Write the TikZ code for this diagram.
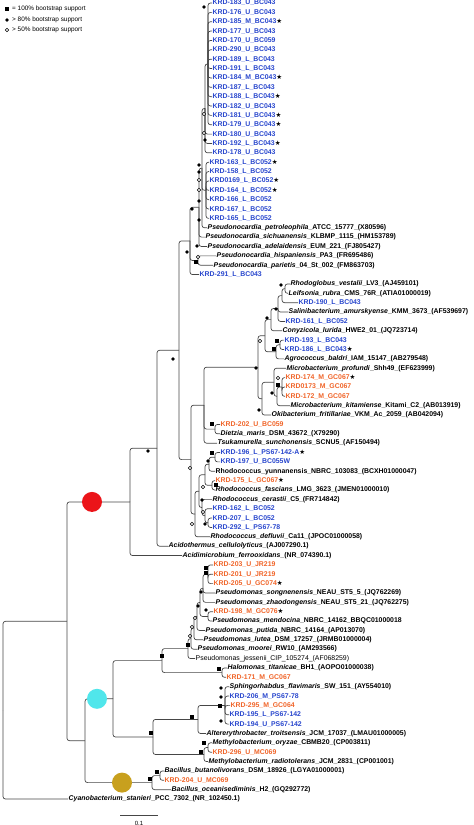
\documentclass[tikz,border=0pt]{standalone}
\usepackage{fontspec}
\setmainfont{Liberation Sans}
\newfontfamily\symf{DejaVu Sans}
\definecolor{kb}{RGB}{40,70,205}
\definecolor{ko}{RGB}{240,100,40}
\definecolor{lc}{RGB}{70,70,70}
\definecolor{cred}{RGB}{235,20,25}
\definecolor{ccyan}{RGB}{80,230,235}
\definecolor{cgold}{RGB}{200,160,30}
\newcommand\lab{\fontsize{6.9}{8}\selectfont\bfseries}
\newcommand\st{{\symf\fontsize{6.5}{6}\selectfont ★}}
\newcommand\leaf[4]{\node[lf] (#1) at (#2,{3+(#3-1)*9.365}) {#4};}
\newcommand\tl[2]{\draw[br] (#1) |- (#2.west);}
\newcommand\ti[2]{\draw[br] (#1) |- (#2);}
\newcommand\msq[2]{\fill[black] (#1,#2) ++(-1.9pt,-1.9pt) rectangle ++(3.8pt,3.8pt);}
\newcommand\mdot[2]{\fill[black] (#1,#2) circle (1.8pt);}
\newcommand\mop[2]{\draw[black,fill=white,line width=0.5pt] (#1,#2) circle (1.8pt);}
\newcommand\kb[1]{\textcolor{kb}{#1}}
\newcommand\ko[1]{\textcolor{ko}{#1}}
\begin{document}
\begin{tikzpicture}[x=1pt,y=-1pt,
  br/.style={draw=lc,line width=0.7pt,rounded corners=2.5pt},
  lf/.style={anchor=west,inner sep=0.5pt,font=\lab}]
\useasboundingbox (0,0) rectangle (474,825);
% legend
\msq{7}{9}
\node[anchor=west,inner sep=0pt,font=\fontsize{6.4}{7}\selectfont] (lg1) at (12,9) {= 100\% bootstrap support};
\mdot{7}{20}
\node[anchor=west,inner sep=0pt,font=\fontsize{6.4}{7}\selectfont] (lg2) at (12,20) {> 80\% bootstrap support};
\mop{7}{30}
\node[anchor=west,inner sep=0pt,font=\fontsize{6.4}{7}\selectfont] (lg3) at (12,30) {> 50\% bootstrap support};
% leaves
\leaf{L1}{212}{1}{\kb{KRD-183\_U\_BC043}}
\leaf{L2}{212}{2}{\kb{KRD-176\_U\_BC043}}
\leaf{L3}{212}{3}{\kb{KRD-185\_M\_BC043}\st}
\leaf{L4}{212}{4}{\kb{KRD-177\_U\_BC043}}
\leaf{L5}{212}{5}{\kb{KRD-170\_U\_BC059}}
\leaf{L6}{212}{6}{\kb{KRD-290\_U\_BC043}}
\leaf{L7}{212}{7}{\kb{KRD-189\_L\_BC043}}
\leaf{L8}{212}{8}{\kb{KRD-191\_L\_BC043}}
\leaf{L9}{212}{9}{\kb{KRD-184\_M\_BC043}\st}
\leaf{L10}{212}{10}{\kb{KRD-187\_L\_BC043}}
\leaf{L11}{212}{11}{\kb{KRD-188\_L\_BC043}\st}
\leaf{L12}{212}{12}{\kb{KRD-182\_U\_BC043}}
\leaf{L13}{212}{13}{\kb{KRD-181\_U\_BC043}\st}
\leaf{L14}{212}{14}{\kb{KRD-179\_U\_BC043}\st}
\leaf{L15}{212}{15}{\kb{KRD-180\_U\_BC043}}
\leaf{L16}{212}{16}{\kb{KRD-192\_L\_BC043}\st}
\leaf{L17}{212}{17}{\kb{KRD-178\_U\_BC043}}
\leaf{L18}{209}{18}{\kb{KRD-163\_L\_BC052}\st}
\leaf{L19}{209}{19}{\kb{KRD-158\_L\_BC052}}
\leaf{L20}{209}{20}{\kb{KRD0169\_L\_BC052}\st}
\leaf{L21}{209}{21}{\kb{KRD-164\_L\_BC052}\st}
\leaf{L22}{209}{22}{\kb{KRD-166\_L\_BC052}}
\leaf{L23}{209}{23}{\kb{KRD-167\_L\_BC052}}
\leaf{L24}{209}{24}{\kb{KRD-165\_L\_BC052}}
\leaf{L25}{207}{25}{\textit{Pseudonocardia\_petroleophila}\_ATCC\_15777\_(X80596)}
\leaf{L26}{205}{26}{\textit{Pseudonocardia\_sichuanensis}\_KLBMP\_1115\_(HM153789)}
\leaf{L27}{207}{27}{\textit{Pseudonocardia\_adelaidensis}\_EUM\_221\_(FJ805427)}
\leaf{L28}{216}{28}{\textit{Pseudonocardia\_hispaniensis}\_PA3\_(FR695486)}
\leaf{L29}{213}{29}{\textit{Pseudonocardia\_parietis}\_04\_St\_002\_(FM863703)}
\leaf{L30}{199}{30}{\kb{KRD-291\_L\_BC043}}
\leaf{L31}{290}{31}{\textit{Rhodoglobus\_vestalii}\_LV3\_(AJ459101)}
\leaf{L32}{288}{32}{\textit{Leifsonia\_rubra}\_CMS\_76R\_(ATIA01000019)}
\leaf{L33}{298}{33}{\kb{KRD-190\_L\_BC043}}
\leaf{L34}{288}{34}{\textit{Salinibacterium\_amurskyense}\_KMM\_3673\_(AF539697)}
\leaf{L35}{285}{35}{\kb{KRD-161\_L\_BC052}}
\leaf{L36}{282}{36}{\textit{Conyzicola\_lurida}\_HWE2\_01\_(JQ723714)}
\leaf{L37}{284}{37}{\kb{KRD-193\_L\_BC043}}
\leaf{L38}{284}{38}{\kb{KRD-186\_L\_BC043}\st}
\leaf{L39}{284}{39}{\textit{Agrococcus\_baldri}\_IAM\_15147\_(AB279548)}
\leaf{L40}{286}{40}{\textit{Microbacterium\_profundi}\_Shh49\_(EF623999)}
\leaf{L41}{285}{41}{\ko{KRD-174\_M\_GC067}\st}
\leaf{L42}{285}{42}{\ko{KRD0173\_M\_GC067}}
\leaf{L43}{285}{43}{\ko{KRD-172\_M\_GC067}}
\leaf{L44}{290}{44}{\textit{Microbacterium\_kitamiense}\_Kitami\_C2\_(AB013919)}
\leaf{L45}{271}{45}{\textit{Okibacterium\_fritillariae}\_VKM\_Ac\_2059\_(AB042094)}
\leaf{L46}{220}{46}{\ko{KRD-202\_U\_BC059}}
\leaf{L47}{220}{47}{\textit{Dietzia\_maris}\_DSM\_43672\_(X79290)}
\leaf{L48}{217}{48}{\textit{Tsukamurella\_sunchonensis}\_SCNU5\_(AF150494)}
\leaf{L49}{220}{49}{\kb{KRD-196\_L\_PS67-142-A}\st}
\leaf{L50}{220}{50}{\kb{KRD-197\_U\_BC055W}}
\leaf{L51}{215}{51}{Rhodococcus\_yunnanensis\_NBRC\_103083\_(BCXH01000047)}
\leaf{L52}{215}{52}{\ko{KRD-175\_L\_GC067}\st}
\leaf{L53}{215}{53}{\textit{Rhodococcus\_fascians}\_LMG\_3623\_(JMEN01000010)}
\leaf{L54}{212}{54}{\textit{Rhodococcus\_cerastii}\_C5\_(FR714842)}
\leaf{L55}{212}{55}{\kb{KRD-162\_L\_BC052}}
\leaf{L56}{212}{56}{\kb{KRD-207\_L\_BC052}}
\leaf{L57}{212}{57}{\kb{KRD-292\_L\_PS67-78}}
\leaf{L58}{210}{58}{\textit{Rhodococcus\_defluvii}\_Ca11\_(JPOC01000058)}
\leaf{L59}{168}{59}{\textit{Acidothermus\_cellulolyticus}\_(AJ007290.1)}
\leaf{L60}{182}{60}{\textit{Acidimicrobium\_ferrooxidans}\_(NR\_074390.1)}
\leaf{L61}{213}{61}{\ko{KRD-203\_U\_JR219}}
\leaf{L62}{213}{62}{\ko{KRD-201\_U\_JR219}}
\leaf{L63}{213}{63}{\ko{KRD-205\_U\_GC074}\st}
\leaf{L64}{215}{64}{\textit{Pseudomonas\_songnenensis}\_NEAU\_ST5\_5\_(JQ762269)}
\leaf{L65}{215}{65}{\textit{Pseudomonas\_zhaodongensis}\_NEAU\_ST5\_21\_(JQ762275)}
\leaf{L66}{213}{66}{\ko{KRD-198\_M\_GC076}\st}
\leaf{L67}{212}{67}{\textit{Pseudomonas\_mendocina}\_NBRC\_14162\_BBQC01000018}
\leaf{L68}{205}{68}{\textit{Pseudomonas\_putida}\_NBRC\_14164\_(AP013070)}
\leaf{L69}{203}{69}{\textit{Pseudomonas\_lutea}\_DSM\_17257\_(JRMB01000004)}
\leaf{L70}{197}{70}{\textit{Pseudomonas\_moorei}\_RW10\_(AM293566)}
\leaf{L71}{195}{71}{\mdseries Pseudomonas\_jessenii\_CIP\_105274\_(AF068259)}
\leaf{L72}{227}{72}{\textit{Halomonas\_titanicae}\_BH1\_(AOPO01000038)}
\leaf{L73}{226}{73}{\ko{KRD-171\_M\_GC067}}
\leaf{L74}{229}{74}{\textit{Sphingorhabdus\_flavimaris}\_SW\_151\_(AY554010)}
\leaf{L75}{229}{75}{\kb{KRD-206\_M\_PS67-78}}
\leaf{L76}{230}{76}{\ko{KRD-295\_M\_GC064}}
\leaf{L77}{229}{77}{\kb{KRD-195\_L\_PS67-142}}
\leaf{L78}{229}{78}{\kb{KRD-194\_U\_PS67-142}}
\leaf{L79}{206}{79}{\textit{Altererythrobacter\_troitsensis}\_JCM\_17037\_(LMAU01000005)}
\leaf{L80}{212}{80}{\textit{Methylobacterium\_oryzae}\_CBMB20\_(CP003811)}
\leaf{L81}{212}{81}{\ko{KRD-296\_U\_MC069}}
\leaf{L82}{208}{82}{\textit{Methylobacterium\_radiotolerans}\_JCM\_2831\_(CP001001)}
\leaf{L83}{164}{83}{\textit{Bacillus\_butanolivorans}\_DSM\_18926\_(LGYA01000001)}
\leaf{L84}{164}{84}{\ko{KRD-204\_U\_MC069}}
\leaf{L85}{171}{85}{\textit{Bacillus\_oceanisediminis}\_H2\_(GQ292772)}
\leaf{L86}{68}{86}{\textit{Cyanobacterium\_stanieri}\_PCC\_7302\_(NR\_102450.1)}
% internal nodes
\coordinate (q1) at (208,63.9);
\coordinate (q2) at (205,108.4);
\coordinate (q3) at (206,190.3);
\coordinate (q4) at (202,168.1);
\coordinate (q5) at (199,207.3);
\coordinate (q6) at (198,260.5);
\coordinate (q7) at (190,240.9);
\coordinate (mc1) at (285,288.6);
\coordinate (mc2) at (282,295.6);
\coordinate (mc3) at (278,308.5);
\coordinate (mc4) at (271,319.6);
\coordinate (mc5a) at (280,344.8);
\coordinate (mc5) at (276,351.8);
\coordinate (mc6) at (265,335.7);
\coordinate (mk1) at (282,387.0);
\coordinate (mk2) at (277,396.3);
\coordinate (mk3) at (274,382.3);
\coordinate (mc8) at (262,398.7);
\coordinate (mc9) at (258,367.2);
\coordinate (dz) at (215,429.1);
\coordinate (na) at (204,405.2);
\coordinate (r1) at (215,457.2);
\coordinate (r2) at (209,464.2);
\coordinate (r3) at (212,485.3);
\coordinate (r4) at (205,474.8);
\coordinate (r5a) at (208,522.8);
\coordinate (r5b) at (205,515.7);
\coordinate (r5c) at (202,507.5);
\coordinate (r6) at (199,491.2);
\coordinate (r7) at (195,514.0);
\coordinate (nl) at (191,459.6);
\coordinate (n179) at (179,350.3);
\coordinate (n157) at (157,448.2);
\coordinate (act) at (130,501.9);
\coordinate (n1) at (208,574.3);
\coordinate (n2) at (203,588.3);
\coordinate (n3) at (208,616.4);
\coordinate (n4) at (200,602.4);
\coordinate (n5) at (197,616.4);
\coordinate (n6) at (194,628.1);
\coordinate (n7) at (191,638.6);
\coordinate (n8) at (188,648.6);
\coordinate (h1) at (222,672.6);
\coordinate (pall) at (162,660.6);
\coordinate (s1) at (225,705.4);
\coordinate (s2) at (198,719.4);
\coordinate (ma) at (208,747.5);
\coordinate (m1) at (204,754.5);
\coordinate (s3) at (153,737.0);
\coordinate (g) at (113,698.8);
\coordinate (b1) at (160,775.6);
\coordinate (b2) at (152,782.6);
\coordinate (h) at (85,740.7);
\coordinate (i) at (67,621.3);
\coordinate (r) at (3,710.2);
% connectors
\foreach \k in {1,...,14} {\tl{q1}{L\k}}
\ti{q2}{q1} \tl{q2}{L15} \tl{q2}{L16} \tl{q2}{L17}
\foreach \k in {18,...,24} {\tl{q3}{L\k}}
\ti{q4}{q2} \ti{q4}{q3} \tl{q4}{L25}
\ti{q5}{q4} \tl{q5}{L26} \tl{q5}{L27}
\tl{q6}{L28} \tl{q6}{L29}
\ti{q7}{q5} \ti{q7}{q6} \tl{q7}{L30}
\tl{mc1}{L31} \tl{mc1}{L32}
\ti{mc2}{mc1} \tl{mc2}{L33}
\ti{mc3}{mc2} \tl{mc3}{L34} \tl{mc3}{L35}
\ti{mc4}{mc3} \tl{mc4}{L36}
\tl{mc5a}{L37} \tl{mc5a}{L38}
\ti{mc5}{mc5a} \tl{mc5}{L39}
\ti{mc6}{mc4} \ti{mc6}{mc5}
\tl{mk1}{L41} \tl{mk1}{L42} \tl{mk1}{L43}
\ti{mk2}{mk1} \tl{mk2}{L44}
\tl{mk3}{L40} \ti{mk3}{mk2}
\ti{mc8}{mk3} \tl{mc8}{L45}
\ti{mc9}{mc6} \ti{mc9}{mc8}
\tl{dz}{L46} \tl{dz}{L47}
\ti{na}{mc9} \ti{na}{dz} \tl{na}{L48}
\tl{r1}{L49} \tl{r1}{L50}
\ti{r2}{r1} \tl{r2}{L51}
\tl{r3}{L52} \tl{r3}{L53}
\ti{r4}{r2} \ti{r4}{r3}
\tl{r5a}{L56} \tl{r5a}{L57}
\tl{r5b}{L55} \ti{r5b}{r5a}
\tl{r5c}{L54} \ti{r5c}{r5b}
\ti{r6}{r4} \ti{r6}{r5c}
\ti{r7}{r6} \tl{r7}{L58}
\ti{nl}{na} \ti{nl}{r7}
\ti{n179}{q7} \ti{n179}{nl}
\ti{n157}{n179} \tl{n157}{L59}
\ti{act}{n157} \tl{act}{L60}
\tl{n1}{L61} \tl{n1}{L62} \tl{n1}{L63}
\ti{n2}{n1} \tl{n2}{L64} \tl{n2}{L65}
\tl{n3}{L66} \tl{n3}{L67}
\ti{n4}{n2} \ti{n4}{n3}
\ti{n5}{n4} \tl{n5}{L68}
\ti{n6}{n5} \tl{n6}{L69}
\ti{n7}{n6} \tl{n7}{L70}
\ti{n8}{n7} \tl{n8}{L71}
\tl{h1}{L72} \tl{h1}{L73}
\ti{pall}{n8} \ti{pall}{h1}
\foreach \k in {74,...,78} {\tl{s1}{L\k}}
\ti{s2}{s1} \tl{s2}{L79}
\tl{ma}{L80} \tl{ma}{L81}
\ti{m1}{ma} \tl{m1}{L82}
\ti{s3}{s2} \ti{s3}{m1}
\ti{g}{pall} \ti{g}{s3}
\tl{b1}{L83} \tl{b1}{L84}
\ti{b2}{b1} \tl{b2}{L85}
\ti{h}{g} \ti{h}{b2}
\ti{i}{act} \ti{i}{h}
\ti{r}{i} \tl{r}{L86}
% big circles
\fill[cred] (92,501.9) circle (10pt);
\fill[ccyan] (97,698.8) circle (10pt);
\fill[cgold] (122,782.6) circle (10pt);
% bootstrap markers
\mdot{204}{7} \mdot{205}{140} \mdot{199}{165} \mdot{199}{172} \mdot{199}{201}
\mdot{192}{209} \mdot{199}{220} \mdot{197}{246} \mdot{187}{252} \mdot{281}{285}
\mdot{276}{309} \mdot{267}{318} \mdot{173}{359} \mdot{256}{368} \mdot{272}{393}
\mdot{259}{410} \mdot{148}{451} \mdot{208}{461} \mdot{202}{500} \mdot{205}{524}
\mdot{201}{592} \mdot{198}{606} \mdot{206}{610} \mdot{221}{688} \mdot{221}{697}
\mdot{221}{721}
\mop{204}{114} \mop{204}{133} \mop{199}{180} \mop{199}{190} \mop{198}{257}
\mop{260}{341} \mop{278}{378} \mop{190}{468} \mop{203}{487} \mop{203}{512}
\mop{192}{524} \mop{195}{618} \mop{192}{627} \mop{190}{636}
\msq{196}{262} \msq{277}{341} \msq{274}{349} \msq{278}{385} \msq{212}{424}
\msq{212}{453} \msq{216}{485} \msq{206}{568} \msq{206}{573} \msq{188}{645}
\msq{162}{656} \msq{219}{669} \msq{220}{706} \msq{192}{717} \msq{151}{733}
\msq{204}{743} \msq{201}{752} \msq{157}{772} \msq{150}{779}
% scale bar
\coordinate (sb1) at (120,815);
\coordinate (sb2) at (158,815);
\draw[lc,line width=0.7pt] (sb1) -- (sb2);
\node[font=\fontsize{6}{7}\selectfont,inner sep=0pt] (sbl) at (139,823) {0.1};
\end{tikzpicture}
\end{document}
